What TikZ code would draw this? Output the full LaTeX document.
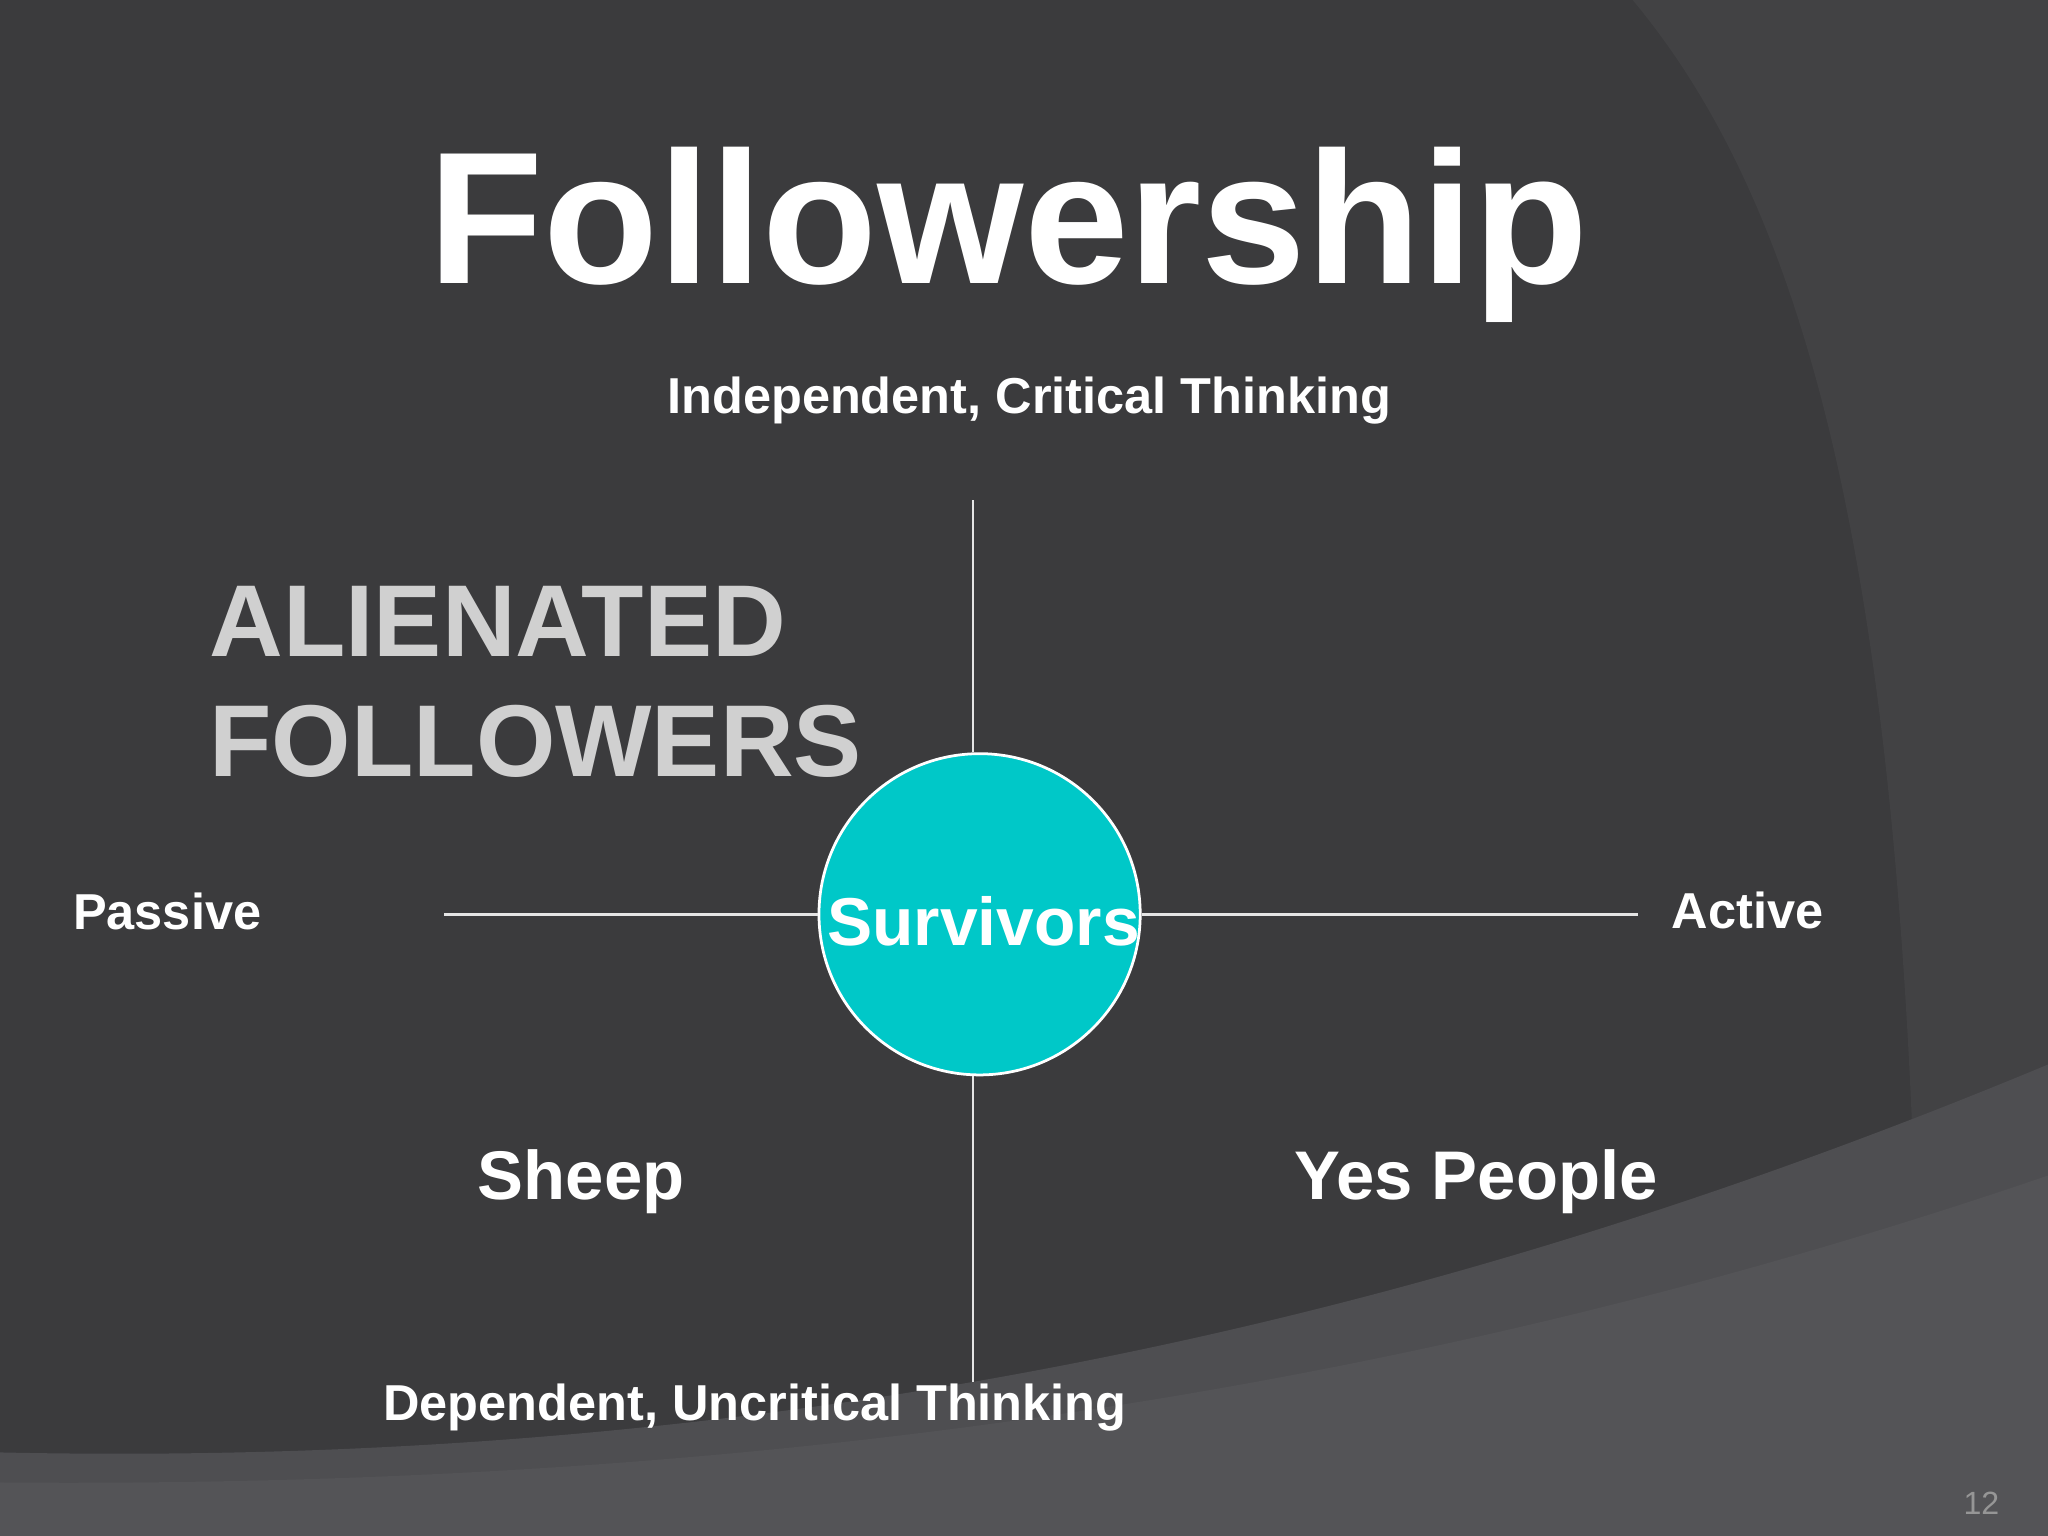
\documentclass[tikz,border=0pt]{standalone}
\usepackage{fontspec}
\setmainfont{Liberation Sans}
\begin{document}
\begin{tikzpicture}[x=0.02cm,y=-0.02cm,
  lbl/.style={text=white,font=\bfseries\fontsize{22}{25}\selectfont,inner sep=0pt},
  quad/.style={text=white,font=\bfseries\fontsize{30}{33}\selectfont,inner sep=0pt},
  axis/.style={draw=white!90!black,line width=1.2pt}]
\fill[fill={rgb,255:red,59;green,59;blue,61}] (0,0) rectangle (1568,1176);
\useasboundingbox (0,0) rectangle (1568,1176);
\fill[fill={rgb,255:red,66;green,66;blue,68}] (1250,0) .. controls (1400,180) and (1470,500) .. (1470,1176) -- (1568,1176) -- (1568,0) -- cycle;
\fill[fill={rgb,255:red,78;green,78;blue,81}] (0,1112) .. controls (600,1125) and (1100,1010) .. (1568,815) -- (1568,1176) -- (0,1176) -- cycle;
\fill[fill={rgb,255:red,84;green,84;blue,87}] (0,1135) .. controls (600,1140) and (1100,1060) .. (1568,900) -- (1568,1176) -- (0,1176) -- cycle;

\node (title) at (772,180) [text=white,font=\bfseries\fontsize{82}{84}\selectfont] {Followership};
\node[lbl] (top) at (788,307) {Independent, Critical Thinking};
\node[lbl] (bot) at (578,1078) {Dependent, Uncritical Thinking};
\node[lbl] (pas) at (128,698) {Passive};
\node[lbl] (act) at (1338,697) {Active};

\coordinate (vt) at (745,383);
\coordinate (vb) at (745,1058);
\coordinate (hl) at (340,700);
\coordinate (hr) at (1254,700);
\node[circle,draw=white,line width=1.2pt,fill={rgb,255:red,0;green,200;blue,200},minimum size=4.92cm,inner sep=0pt] (c) at (750,700) {};
\draw[axis] (vt) -- (c.north -| vt);
\draw[axis] (c.south -| vb) -- (vb);
\draw[axis] (hl) -- (c.west);
\draw[axis] (c.east) -- (hr);
\node[text=white,font=\bfseries\fontsize{29.5}{32}\selectfont,inner sep=0pt] (surv) at (753,705) {Survivors};

\node[anchor=west,align=left,text={rgb,255:red,208;green,208;blue,208},font=\bfseries\fontsize{44.5}{52.5}\selectfont,inner sep=0pt] (alien) at (160,522) {ALIENATED\\FOLLOWERS};
\node[quad] (sheep) at (445,905) {Sheep};
\node[quad] (yes) at (1130,905) {Yes People};
\node[text={rgb,255:red,150;green,150;blue,150},font=\fontsize{14}{16}\selectfont] (num) at (1517,1151) {12};
\end{tikzpicture}
\end{document}
